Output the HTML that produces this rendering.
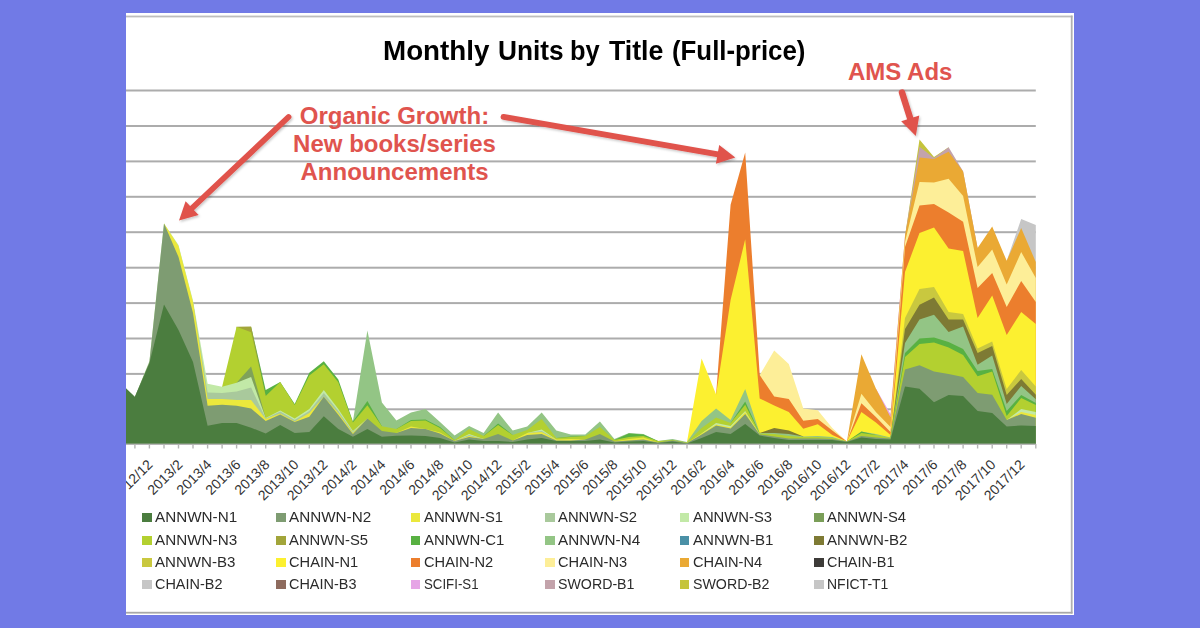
<!DOCTYPE html>
<html><head><meta charset="utf-8"><style>
html,body{margin:0;padding:0;}
body{width:1200px;height:628px;background:#717ae6;position:relative;overflow:hidden;font-family:"Liberation Sans",sans-serif;}
#panel{position:absolute;left:126px;top:13px;width:948px;height:602px;background:#fff;overflow:hidden;}
#chart{position:absolute;left:0;top:0;}
.xl{position:absolute;width:100px;text-align:right;font-size:14px;line-height:14px;color:#333;transform-origin:100% 50%;transform:rotate(-45deg);white-space:nowrap;}
.sw{position:absolute;width:9.6px;height:9.2px;}
.lt{position:absolute;font-size:15px;line-height:16px;color:#2b2b2b;transform-origin:0 50%;white-space:nowrap;}
.title{position:absolute;font-weight:bold;color:#000;white-space:nowrap;}
.ann{position:absolute;font-weight:bold;color:#e0544e;white-space:nowrap;text-align:center;}
</style></head><body>
<div id="panel">
<svg id="chart" width="948" height="602" viewBox="126 13 948 602">
<defs><filter id="sh" x="-10%" y="-10%" width="130%" height="130%"><feDropShadow dx="1.2" dy="1.5" stdDeviation="1.2" flood-color="#000" flood-opacity="0.22"/></filter></defs>
<rect x="126" y="15.6" width="946.5" height="1.8" fill="#bdbdbd"/>
<rect x="1070.8" y="15.6" width="1.8" height="598" fill="#b0b0b0"/>
<rect x="126" y="611.8" width="946.5" height="1.8" fill="#a8a8a8"/>
<rect x="126" y="89.5" width="909.8" height="2" fill="#acacac"/><rect x="126" y="125.0" width="909.8" height="2" fill="#acacac"/><rect x="126" y="160.4" width="909.8" height="2" fill="#acacac"/><rect x="126" y="195.8" width="909.8" height="2" fill="#acacac"/><rect x="126" y="231.2" width="909.8" height="2" fill="#acacac"/><rect x="126" y="266.7" width="909.8" height="2" fill="#acacac"/><rect x="126" y="302.1" width="909.8" height="2" fill="#acacac"/><rect x="126" y="337.5" width="909.8" height="2" fill="#acacac"/><rect x="126" y="372.9" width="909.8" height="2" fill="#acacac"/><rect x="126" y="408.3" width="909.8" height="2" fill="#acacac"/>
<polygon fill="#c6c6c6" points="120.4,444.4 134.9,444.4 149.4,444.4 164.0,444.4 178.5,444.4 193.0,444.4 207.6,444.4 222.1,444.4 236.6,444.4 251.1,444.4 265.7,444.4 280.2,444.4 294.7,444.4 309.3,444.4 323.8,444.4 338.3,444.4 352.9,444.4 367.4,444.4 381.9,444.4 396.4,444.4 411.0,444.4 425.5,444.4 440.0,444.4 454.6,444.4 469.1,444.4 483.6,444.4 498.1,444.4 512.7,444.4 527.2,444.4 541.7,444.4 556.3,444.4 570.8,444.4 585.3,444.4 599.9,444.4 614.4,444.4 628.9,444.4 643.4,444.4 658.0,444.4 672.5,444.4 687.0,444.4 701.6,444.4 716.1,444.4 730.6,444.4 745.2,444.4 759.7,444.4 774.2,444.4 788.8,444.4 803.3,444.4 817.8,444.4 832.3,444.4 846.9,444.4 861.4,444.4 875.9,444.4 890.5,444.4 905.0,444.4 919.5,444.4 934.0,444.4 948.6,444.4 963.1,444.4 977.6,444.4 992.2,444.4 1006.7,444.4 1006.7,260.8 1021.2,219.0 1035.8,225.0 1035.8,444.4 120.4,444.4"/><polygon fill="#c5c43c" points="120.4,444.4 134.9,444.4 149.4,444.4 164.0,444.4 178.5,444.4 193.0,444.4 207.6,444.4 222.1,444.4 236.6,444.4 251.1,444.4 265.7,444.4 280.2,444.4 294.7,444.4 309.3,444.4 323.8,444.4 338.3,444.4 352.9,444.4 367.4,444.4 381.9,444.4 396.4,444.4 411.0,444.4 425.5,444.4 440.0,444.4 454.6,444.4 469.1,444.4 483.6,444.4 498.1,444.4 512.7,444.4 527.2,444.4 541.7,444.4 556.3,444.4 570.8,444.4 585.3,444.4 599.9,444.4 614.4,444.4 628.9,444.4 643.4,444.4 658.0,444.4 672.5,444.4 687.0,444.4 701.6,444.4 716.1,444.4 730.6,444.4 745.2,444.4 759.7,444.4 774.2,444.4 788.8,444.4 803.3,444.4 817.8,444.4 832.3,444.4 846.9,444.4 861.4,444.4 875.9,444.4 890.5,444.4 905.0,444.4 905.0,236.0 919.5,139.5 934.0,157.0 948.6,147.3 948.6,444.4 963.1,444.4 977.6,444.4 992.2,444.4 1006.7,444.4 1021.2,444.4 1035.8,444.4 1035.8,444.4 120.4,444.4"/><polygon fill="#c3a3ab" points="120.4,444.4 134.9,444.4 149.4,444.4 164.0,444.4 178.5,444.4 193.0,444.4 207.6,444.4 222.1,444.4 236.6,444.4 251.1,444.4 265.7,444.4 280.2,444.4 294.7,444.4 309.3,444.4 323.8,444.4 338.3,444.4 352.9,444.4 367.4,444.4 381.9,444.4 396.4,444.4 411.0,444.4 425.5,444.4 440.0,444.4 454.6,444.4 469.1,444.4 483.6,444.4 498.1,444.4 512.7,444.4 527.2,444.4 541.7,444.4 556.3,444.4 570.8,444.4 585.3,444.4 599.9,444.4 614.4,444.4 628.9,444.4 643.4,444.4 658.0,444.4 672.5,444.4 687.0,444.4 701.6,444.4 716.1,444.4 730.6,444.4 745.2,444.4 759.7,444.4 774.2,444.4 788.8,444.4 803.3,444.4 817.8,444.4 832.3,444.4 846.9,444.4 861.4,444.4 875.9,444.4 890.5,444.4 905.0,444.4 905.0,236.0 919.5,146.7 934.0,158.0 948.6,147.3 963.1,171.2 977.6,248.0 977.6,444.4 992.2,444.4 1006.7,444.4 1021.2,444.4 1035.8,444.4 1035.8,444.4 120.4,444.4"/><polygon fill="#e6a5e6" points="120.4,444.4 134.9,444.4 149.4,444.4 164.0,444.4 178.5,444.4 193.0,444.4 207.6,444.4 222.1,444.4 236.6,444.4 251.1,444.4 265.7,444.4 280.2,444.4 294.7,444.4 309.3,444.4 323.8,444.4 338.3,444.4 352.9,444.4 367.4,444.4 381.9,444.4 396.4,444.4 411.0,444.4 425.5,444.4 440.0,444.4 454.6,444.4 469.1,444.4 483.6,444.4 498.1,444.4 512.7,444.4 527.2,444.4 541.7,444.4 556.3,444.4 570.8,444.4 585.3,444.4 599.9,444.4 614.4,444.4 628.9,444.4 643.4,444.4 658.0,444.4 672.5,444.4 687.0,444.4 701.6,444.4 716.1,444.4 730.6,444.4 745.2,444.4 759.7,444.4 774.2,444.4 788.8,444.4 803.3,444.4 817.8,444.4 832.3,444.4 846.9,444.4 861.4,444.4 875.9,444.4 875.9,388.4 890.5,414.0 905.0,236.0 905.0,444.4 919.5,444.4 934.0,444.4 948.6,444.4 963.1,444.4 977.6,444.4 992.2,444.4 1006.7,444.4 1021.2,444.4 1035.8,444.4 1035.8,444.4 120.4,444.4"/><polygon fill="#eaa934" points="120.4,444.4 134.9,444.4 149.4,444.4 164.0,444.4 178.5,444.4 193.0,444.4 207.6,444.4 222.1,444.4 236.6,444.4 251.1,444.4 265.7,444.4 280.2,444.4 294.7,444.4 309.3,444.4 323.8,444.4 338.3,444.4 352.9,444.4 367.4,444.4 381.9,444.4 396.4,444.4 411.0,444.4 425.5,444.4 440.0,444.4 454.6,444.4 469.1,444.4 483.6,444.4 498.1,444.4 512.7,444.4 527.2,444.4 541.7,444.4 556.3,444.4 570.8,444.4 585.3,444.4 599.9,444.4 614.4,444.4 628.9,444.4 643.4,444.4 658.0,444.4 672.5,444.4 687.0,444.4 701.6,444.4 716.1,444.4 730.6,444.4 745.2,444.4 759.7,444.4 774.2,444.4 788.8,444.4 803.3,444.4 817.8,444.4 832.3,444.4 846.9,444.4 846.9,441.5 861.4,354.3 875.9,388.4 890.5,417.3 905.0,236.0 919.5,157.5 934.0,159.0 948.6,151.8 963.1,171.5 977.6,248.0 992.2,226.5 1006.7,260.8 1021.2,228.0 1035.8,262.0 1035.8,444.4 120.4,444.4"/><polygon fill="#fdee98" points="120.4,444.4 134.9,444.4 149.4,444.4 164.0,444.4 178.5,444.4 193.0,444.4 207.6,444.4 222.1,444.4 236.6,444.4 251.1,444.4 265.7,444.4 280.2,444.4 294.7,444.4 309.3,444.4 323.8,444.4 338.3,444.4 352.9,444.4 367.4,444.4 381.9,444.4 396.4,444.4 411.0,444.4 425.5,444.4 440.0,444.4 454.6,444.4 469.1,444.4 483.6,444.4 498.1,444.4 512.7,444.4 527.2,444.4 541.7,444.4 556.3,444.4 570.8,444.4 585.3,444.4 599.9,444.4 614.4,444.4 628.9,444.4 643.4,444.4 658.0,444.4 672.5,444.4 687.0,444.4 701.6,444.4 716.1,444.4 730.6,444.4 745.2,444.4 759.7,444.4 759.7,375.0 774.2,350.6 788.8,364.0 803.3,408.6 817.8,410.3 832.3,427.9 846.9,441.5 861.4,393.7 875.9,412.0 890.5,427.0 905.0,242.0 919.5,182.0 934.0,182.5 948.6,178.7 963.1,196.0 977.6,267.0 992.2,249.6 1006.7,284.6 1021.2,252.0 1035.8,278.0 1035.8,444.4 120.4,444.4"/><polygon fill="#ec7e2d" points="120.4,444.4 134.9,444.4 149.4,444.4 164.0,444.4 178.5,444.4 193.0,444.4 207.6,444.4 222.1,444.4 236.6,444.4 251.1,444.4 265.7,444.4 280.2,444.4 294.7,444.4 309.3,444.4 323.8,444.4 338.3,444.4 352.9,444.4 367.4,444.4 381.9,444.4 396.4,444.4 411.0,444.4 425.5,444.4 440.0,444.4 454.6,444.4 469.1,444.4 483.6,444.4 498.1,444.4 512.7,444.4 527.2,444.4 541.7,444.4 556.3,444.4 570.8,444.4 585.3,444.4 599.9,444.4 614.4,444.4 628.9,444.4 643.4,444.4 658.0,444.4 672.5,444.4 687.0,444.4 701.6,444.4 716.1,444.4 716.1,394.4 730.6,204.7 745.2,152.6 759.7,375.0 774.2,396.6 788.8,399.0 803.3,420.8 817.8,419.0 832.3,430.5 846.9,441.5 861.4,403.3 875.9,417.0 890.5,432.0 905.0,247.0 919.5,205.5 934.0,204.0 948.6,212.5 963.1,221.7 977.6,288.0 992.2,273.0 1006.7,307.0 1021.2,281.0 1035.8,302.0 1035.8,444.4 120.4,444.4"/><polygon fill="#fcf030" points="120.4,444.4 134.9,444.4 149.4,444.4 164.0,444.4 178.5,444.4 193.0,444.4 207.6,444.4 222.1,444.4 236.6,444.4 251.1,444.4 265.7,444.4 280.2,444.4 294.7,444.4 309.3,444.4 323.8,444.4 338.3,444.4 352.9,444.4 367.4,444.4 381.9,444.4 396.4,444.4 411.0,444.4 425.5,444.4 440.0,444.4 454.6,444.4 469.1,444.4 483.6,444.4 498.1,444.4 512.7,444.4 527.2,444.4 541.7,444.4 556.3,444.4 570.8,444.4 585.3,444.4 599.9,444.4 614.4,444.4 628.9,444.4 643.4,444.4 658.0,444.4 672.5,444.4 687.0,444.4 687.0,442.0 701.6,358.5 716.1,394.4 730.6,300.0 745.2,239.3 759.7,398.5 774.2,405.5 788.8,412.0 803.3,428.7 817.8,424.3 832.3,434.9 846.9,441.5 861.4,412.0 875.9,422.6 890.5,434.9 905.0,272.0 919.5,233.0 934.0,227.5 948.6,248.5 963.1,251.0 977.6,318.0 992.2,295.5 1006.7,335.0 1021.2,312.0 1035.8,324.0 1035.8,444.4 120.4,444.4"/><polygon fill="#c9c83f" points="120.4,444.4 134.9,444.4 149.4,444.4 164.0,444.4 178.5,444.4 193.0,444.4 207.6,444.4 222.1,444.4 236.6,444.4 251.1,444.4 265.7,444.4 280.2,444.4 294.7,444.4 309.3,444.4 323.8,444.4 338.3,444.4 352.9,444.4 367.4,444.4 381.9,444.4 396.4,444.4 411.0,444.4 425.5,444.4 440.0,444.4 454.6,444.4 469.1,444.4 483.6,444.4 498.1,444.4 512.7,444.4 527.2,444.4 541.7,444.4 556.3,444.4 570.8,444.4 585.3,444.4 599.9,444.4 614.4,444.4 628.9,444.4 643.4,444.4 658.0,444.4 672.5,444.4 687.0,444.4 701.6,444.4 716.1,444.4 730.6,444.4 745.2,444.4 759.7,444.4 774.2,444.4 788.8,444.4 803.3,444.4 817.8,444.4 832.3,444.4 846.9,444.4 861.4,444.4 875.9,444.4 890.5,444.4 890.5,437.5 905.0,318.0 919.5,289.0 934.0,287.0 948.6,312.0 963.1,313.9 977.6,348.5 992.2,341.6 1006.7,389.0 1021.2,370.0 1035.8,386.6 1035.8,444.4 120.4,444.4"/><polygon fill="#7e7a34" points="120.4,444.4 134.9,444.4 149.4,444.4 164.0,444.4 178.5,444.4 193.0,444.4 207.6,444.4 222.1,444.4 236.6,444.4 251.1,444.4 265.7,444.4 280.2,444.4 294.7,444.4 309.3,444.4 323.8,444.4 338.3,444.4 352.9,444.4 367.4,444.4 381.9,444.4 396.4,444.4 411.0,444.4 425.5,444.4 440.0,444.4 454.6,444.4 469.1,444.4 483.6,444.4 498.1,444.4 512.7,444.4 527.2,444.4 541.7,444.4 556.3,444.4 570.8,444.4 585.3,444.4 599.9,444.4 614.4,444.4 628.9,444.4 643.4,444.4 658.0,444.4 672.5,444.4 687.0,444.4 701.6,444.4 716.1,444.4 730.6,444.4 745.2,444.4 759.7,444.4 759.7,433.0 774.2,428.0 788.8,430.5 803.3,436.6 803.3,444.4 817.8,444.4 832.3,444.4 846.9,444.4 861.4,444.4 875.9,444.4 890.5,444.4 890.5,437.5 905.0,329.0 919.5,304.8 934.0,297.4 948.6,319.6 963.1,319.6 977.6,353.0 992.2,346.0 1006.7,395.0 1021.2,379.0 1035.8,394.7 1035.8,444.4 120.4,444.4"/><polygon fill="#93c585" points="120.4,444.4 134.9,444.4 149.4,444.4 164.0,444.4 178.5,444.4 193.0,444.4 207.6,444.4 222.1,444.4 236.6,444.4 251.1,444.4 265.7,444.4 280.2,444.4 294.7,444.4 309.3,444.4 323.8,444.4 338.3,444.4 352.9,444.4 352.9,421.5 367.4,330.4 381.9,402.4 396.4,420.5 411.0,412.5 425.5,409.0 440.0,422.0 454.6,435.5 469.1,426.0 483.6,433.0 498.1,412.5 512.7,430.5 527.2,426.5 541.7,412.5 556.3,430.5 570.8,434.5 585.3,434.5 599.9,421.5 614.4,439.0 628.9,433.0 643.4,434.0 658.0,441.0 672.5,439.0 687.0,442.0 701.6,421.0 716.1,408.5 730.6,420.0 745.2,389.0 759.7,433.0 774.2,433.0 788.8,434.0 803.3,436.6 817.8,436.0 832.3,437.0 846.9,441.5 846.9,444.4 861.4,444.4 861.4,431.4 875.9,434.0 890.5,437.5 905.0,343.0 919.5,319.6 934.0,314.7 948.6,332.0 963.1,326.6 977.6,364.7 992.2,355.4 1006.7,404.0 1021.2,386.0 1035.8,399.3 1035.8,444.4 120.4,444.4"/><polygon fill="#58b142" points="120.4,444.4 134.9,444.4 149.4,444.4 164.0,444.4 178.5,444.4 193.0,444.4 207.6,444.4 222.1,444.4 236.6,444.4 251.1,444.4 251.1,326.5 265.7,390.0 280.2,381.9 294.7,404.0 309.3,372.8 323.8,361.3 338.3,379.5 352.9,421.5 367.4,401.0 381.9,426.3 381.9,444.4 396.4,444.4 396.4,429.0 411.0,420.0 425.5,419.5 440.0,427.0 454.6,440.0 454.6,444.4 469.1,444.4 483.6,444.4 483.6,436.0 498.1,423.5 512.7,435.0 512.7,444.4 527.2,444.4 541.7,444.4 556.3,444.4 556.3,438.0 570.8,436.5 585.3,436.0 585.3,444.4 599.9,444.4 614.4,444.4 614.4,440.0 628.9,433.5 643.4,434.5 658.0,441.0 658.0,444.4 672.5,444.4 687.0,444.4 701.6,444.4 716.1,444.4 730.6,444.4 730.6,423.0 745.2,401.6 759.7,433.5 759.7,444.4 774.2,444.4 788.8,444.4 803.3,444.4 817.8,444.4 832.3,444.4 846.9,444.4 846.9,441.5 861.4,431.4 875.9,435.0 875.9,444.4 890.5,444.4 890.5,438.0 905.0,353.0 919.5,338.5 934.0,337.5 948.6,342.0 963.1,349.0 977.6,371.0 992.2,369.0 1006.7,411.0 1021.2,395.0 1035.8,403.0 1035.8,444.4 120.4,444.4"/><polygon fill="#a2a53a" points="120.4,444.4 134.9,444.4 149.4,444.4 164.0,444.4 178.5,444.4 193.0,444.4 207.6,444.4 222.1,444.4 236.6,444.4 236.6,326.8 251.1,326.5 265.7,396.0 265.7,444.4 280.2,444.4 294.7,444.4 309.3,444.4 323.8,444.4 338.3,444.4 352.9,444.4 367.4,444.4 381.9,444.4 396.4,444.4 411.0,444.4 425.5,444.4 440.0,444.4 454.6,444.4 469.1,444.4 483.6,444.4 498.1,444.4 512.7,444.4 527.2,444.4 541.7,444.4 556.3,444.4 570.8,444.4 585.3,444.4 599.9,444.4 614.4,444.4 628.9,444.4 643.4,444.4 658.0,444.4 672.5,444.4 687.0,444.4 701.6,444.4 716.1,444.4 730.6,444.4 745.2,444.4 759.7,444.4 774.2,444.4 788.8,444.4 803.3,444.4 817.8,444.4 832.3,444.4 846.9,444.4 861.4,444.4 875.9,444.4 890.5,444.4 905.0,444.4 919.5,444.4 934.0,444.4 948.6,444.4 963.1,444.4 977.6,444.4 992.2,444.4 1006.7,444.4 1021.2,444.4 1035.8,444.4 1035.8,444.4 120.4,444.4"/><polygon fill="#b3d030" points="120.4,444.4 134.9,444.4 149.4,444.4 164.0,444.4 178.5,444.4 193.0,444.4 207.6,444.4 222.1,444.4 222.1,386.7 236.6,326.8 251.1,332.2 265.7,396.0 280.2,381.9 294.7,405.0 309.3,375.6 323.8,364.2 338.3,382.3 352.9,422.5 367.4,405.3 381.9,426.3 396.4,429.0 411.0,421.0 425.5,420.5 440.0,428.0 454.6,440.0 469.1,429.0 483.6,436.0 498.1,425.0 512.7,435.0 527.2,430.0 541.7,419.0 556.3,438.0 570.8,437.0 585.3,436.0 599.9,427.0 614.4,440.0 628.9,437.0 643.4,436.0 658.0,441.0 672.5,440.0 687.0,442.5 701.6,428.0 716.1,417.5 730.6,423.0 745.2,404.8 759.7,433.5 774.2,434.0 788.8,436.0 803.3,437.0 817.8,437.0 832.3,438.0 846.9,441.5 861.4,433.0 875.9,435.0 890.5,438.0 905.0,357.0 919.5,344.0 934.0,342.5 948.6,347.5 963.1,355.0 977.6,376.2 992.2,371.6 1006.7,416.0 1021.2,398.0 1035.8,405.0 1035.8,444.4 120.4,444.4"/><polygon fill="#7fa25a" points="120.4,444.4 134.9,444.4 149.4,444.4 164.0,444.4 178.5,444.4 193.0,444.4 207.6,444.4 222.1,444.4 236.6,444.4 236.6,382.8 251.1,366.6 265.7,418.0 265.7,444.4 280.2,444.4 294.7,444.4 309.3,444.4 323.8,444.4 338.3,444.4 352.9,444.4 367.4,444.4 381.9,444.4 396.4,444.4 411.0,444.4 425.5,444.4 440.0,444.4 454.6,444.4 469.1,444.4 483.6,444.4 498.1,444.4 512.7,444.4 527.2,444.4 541.7,444.4 556.3,444.4 570.8,444.4 585.3,444.4 599.9,444.4 614.4,444.4 628.9,444.4 643.4,444.4 658.0,444.4 672.5,444.4 687.0,444.4 701.6,444.4 716.1,444.4 730.6,444.4 745.2,444.4 759.7,444.4 774.2,444.4 788.8,444.4 803.3,444.4 817.8,444.4 832.3,444.4 846.9,444.4 861.4,444.4 875.9,444.4 890.5,444.4 905.0,444.4 919.5,444.4 934.0,444.4 948.6,444.4 963.1,444.4 977.6,444.4 992.2,444.4 1006.7,444.4 1021.2,444.4 1035.8,444.4 1035.8,444.4 120.4,444.4"/><polygon fill="#c2e9a7" points="120.4,444.4 134.9,444.4 134.9,396.7 149.4,361.0 164.0,223.4 178.5,245.0 193.0,300.5 207.6,383.8 222.1,386.7 236.6,382.8 251.1,377.0 265.7,418.0 280.2,410.5 294.7,418.6 309.3,409.0 323.8,390.0 338.3,409.0 352.9,431.0 367.4,418.6 367.4,444.4 381.9,444.4 396.4,444.4 411.0,444.4 425.5,444.4 440.0,444.4 454.6,444.4 454.6,441.0 469.1,434.0 483.6,439.0 483.6,444.4 498.1,444.4 512.7,444.4 527.2,444.4 527.2,433.0 541.7,429.5 556.3,439.5 556.3,444.4 570.8,444.4 585.3,444.4 599.9,444.4 614.4,444.4 628.9,444.4 643.4,444.4 658.0,444.4 672.5,444.4 687.0,444.4 701.6,444.4 701.6,433.5 716.1,423.0 730.6,426.0 745.2,411.0 759.7,434.5 759.7,444.4 774.2,444.4 788.8,444.4 803.3,444.4 817.8,444.4 832.3,444.4 846.9,444.4 861.4,444.4 875.9,444.4 890.5,444.4 905.0,444.4 919.5,444.4 934.0,444.4 948.6,444.4 963.1,444.4 977.6,444.4 992.2,444.4 1006.7,444.4 1006.7,420.0 1021.2,409.0 1035.8,412.0 1035.8,444.4 120.4,444.4"/><polygon fill="#a9c99c" points="120.4,444.4 134.9,444.4 149.4,444.4 164.0,444.4 178.5,444.4 193.0,444.4 193.0,302.0 207.6,392.4 222.1,393.0 236.6,391.4 251.1,387.6 265.7,418.5 280.2,411.5 294.7,420.0 309.3,411.0 323.8,393.0 338.3,411.0 352.9,432.0 367.4,418.6 367.4,444.4 381.9,444.4 396.4,444.4 411.0,444.4 425.5,444.4 440.0,444.4 454.6,444.4 454.6,441.0 469.1,435.0 483.6,439.0 483.6,444.4 498.1,444.4 512.7,444.4 527.2,444.4 527.2,433.0 541.7,431.0 556.3,439.5 556.3,444.4 570.8,444.4 585.3,444.4 599.9,444.4 614.4,444.4 628.9,444.4 643.4,444.4 658.0,444.4 672.5,444.4 687.0,444.4 701.6,444.4 716.1,444.4 730.6,444.4 745.2,444.4 759.7,444.4 774.2,444.4 788.8,444.4 803.3,444.4 817.8,444.4 832.3,444.4 846.9,444.4 861.4,444.4 875.9,444.4 890.5,444.4 905.0,444.4 919.5,444.4 934.0,444.4 948.6,444.4 963.1,444.4 977.6,444.4 992.2,444.4 1006.7,444.4 1021.2,444.4 1035.8,444.4 1035.8,444.4 120.4,444.4"/><polygon fill="#ebe83c" points="120.4,444.4 134.9,444.4 149.4,444.4 164.0,444.4 164.0,223.4 178.5,246.0 193.0,302.0 207.6,399.0 222.1,399.0 236.6,400.0 251.1,400.0 265.7,419.0 280.2,413.4 294.7,421.5 309.3,413.0 323.8,396.7 338.3,413.0 352.9,433.0 367.4,418.6 367.4,444.4 381.9,444.4 396.4,444.4 396.4,433.0 411.0,426.5 425.5,429.0 440.0,432.5 454.6,441.0 469.1,436.0 483.6,439.0 483.6,444.4 498.1,444.4 512.7,444.4 512.7,440.5 527.2,433.0 541.7,432.0 556.3,439.5 570.8,439.0 585.3,439.5 585.3,444.4 599.9,444.4 614.4,444.4 614.4,441.5 628.9,439.0 643.4,437.5 658.0,442.5 658.0,444.4 672.5,444.4 687.0,444.4 687.0,443.0 701.6,433.5 716.1,424.5 730.6,427.5 745.2,412.0 759.7,434.5 759.7,444.4 774.2,444.4 788.8,444.4 803.3,444.4 817.8,444.4 832.3,444.4 846.9,444.4 861.4,444.4 875.9,444.4 890.5,444.4 905.0,444.4 919.5,444.4 934.0,444.4 948.6,444.4 963.1,444.4 977.6,444.4 992.2,444.4 1006.7,444.4 1006.7,420.0 1021.2,412.0 1035.8,415.0 1035.8,444.4 120.4,444.4"/><polygon fill="#7e9c72" points="120.4,444.4 134.9,444.4 134.9,396.7 149.4,362.0 164.0,223.4 178.5,257.0 193.0,313.0 207.6,405.8 222.1,404.8 236.6,405.8 251.1,408.6 265.7,421.0 280.2,414.4 294.7,422.0 309.3,416.7 323.8,396.7 338.3,414.8 352.9,434.0 367.4,418.6 381.9,431.0 396.4,433.0 411.0,428.0 425.5,429.0 440.0,433.5 454.6,441.0 469.1,437.0 483.6,439.0 498.1,434.0 512.7,440.5 527.2,435.0 541.7,434.0 556.3,440.5 570.8,440.5 585.3,439.5 599.9,434.0 614.4,441.5 628.9,440.5 643.4,439.5 658.0,442.5 672.5,440.5 687.0,443.0 701.6,434.5 716.1,425.5 730.6,428.5 745.2,414.0 759.7,434.5 774.2,436.5 788.8,438.5 803.3,438.5 817.8,438.5 832.3,439.0 846.9,441.5 861.4,436.0 875.9,437.5 890.5,438.5 905.0,369.6 919.5,365.3 934.0,371.5 948.6,374.0 963.1,377.0 977.6,393.0 992.2,394.7 1006.7,420.0 1021.2,414.0 1035.8,417.8 1035.8,444.4 120.4,444.4"/><polygon fill="#4b7d3f" points="120.4,383.0 134.9,396.7 149.4,363.2 164.0,304.5 178.5,330.0 193.0,362.0 207.6,425.8 222.1,423.0 236.6,423.0 251.1,427.7 265.7,433.5 280.2,424.9 294.7,433.0 309.3,432.0 323.8,416.3 338.3,429.0 352.9,436.8 367.4,429.0 381.9,436.8 396.4,435.8 411.0,435.5 425.5,436.0 440.0,438.0 454.6,442.5 469.1,439.5 483.6,441.0 498.1,441.0 512.7,442.0 527.2,439.5 541.7,438.0 556.3,441.0 570.8,441.0 585.3,441.0 599.9,439.5 614.4,442.5 628.9,441.5 643.4,441.0 658.0,443.0 672.5,441.5 687.0,443.5 701.6,438.0 716.1,432.0 730.6,434.0 745.2,424.0 759.7,435.5 774.2,438.0 788.8,440.0 803.3,440.0 817.8,440.0 832.3,440.0 846.9,442.0 861.4,437.5 875.9,439.0 890.5,439.5 905.0,386.6 919.5,388.8 934.0,402.3 948.6,395.0 963.1,396.0 977.6,411.0 992.2,413.0 1006.7,426.5 1021.2,425.5 1035.8,426.0 1035.8,444.4 120.4,444.4"/>
<rect x="126" y="443.6" width="909.8" height="1.4" fill="#b5b5b5"/>
<rect x="134.2" y="444" width="1.4" height="4.5" fill="#b5b5b5"/><rect x="148.7" y="444" width="1.4" height="4.5" fill="#b5b5b5"/><rect x="163.3" y="444" width="1.4" height="4.5" fill="#b5b5b5"/><rect x="177.8" y="444" width="1.4" height="4.5" fill="#b5b5b5"/><rect x="192.3" y="444" width="1.4" height="4.5" fill="#b5b5b5"/><rect x="206.9" y="444" width="1.4" height="4.5" fill="#b5b5b5"/><rect x="221.4" y="444" width="1.4" height="4.5" fill="#b5b5b5"/><rect x="235.9" y="444" width="1.4" height="4.5" fill="#b5b5b5"/><rect x="250.4" y="444" width="1.4" height="4.5" fill="#b5b5b5"/><rect x="265.0" y="444" width="1.4" height="4.5" fill="#b5b5b5"/><rect x="279.5" y="444" width="1.4" height="4.5" fill="#b5b5b5"/><rect x="294.0" y="444" width="1.4" height="4.5" fill="#b5b5b5"/><rect x="308.6" y="444" width="1.4" height="4.5" fill="#b5b5b5"/><rect x="323.1" y="444" width="1.4" height="4.5" fill="#b5b5b5"/><rect x="337.6" y="444" width="1.4" height="4.5" fill="#b5b5b5"/><rect x="352.2" y="444" width="1.4" height="4.5" fill="#b5b5b5"/><rect x="366.7" y="444" width="1.4" height="4.5" fill="#b5b5b5"/><rect x="381.2" y="444" width="1.4" height="4.5" fill="#b5b5b5"/><rect x="395.7" y="444" width="1.4" height="4.5" fill="#b5b5b5"/><rect x="410.3" y="444" width="1.4" height="4.5" fill="#b5b5b5"/><rect x="424.8" y="444" width="1.4" height="4.5" fill="#b5b5b5"/><rect x="439.3" y="444" width="1.4" height="4.5" fill="#b5b5b5"/><rect x="453.9" y="444" width="1.4" height="4.5" fill="#b5b5b5"/><rect x="468.4" y="444" width="1.4" height="4.5" fill="#b5b5b5"/><rect x="482.9" y="444" width="1.4" height="4.5" fill="#b5b5b5"/><rect x="497.4" y="444" width="1.4" height="4.5" fill="#b5b5b5"/><rect x="512.0" y="444" width="1.4" height="4.5" fill="#b5b5b5"/><rect x="526.5" y="444" width="1.4" height="4.5" fill="#b5b5b5"/><rect x="541.0" y="444" width="1.4" height="4.5" fill="#b5b5b5"/><rect x="555.6" y="444" width="1.4" height="4.5" fill="#b5b5b5"/><rect x="570.1" y="444" width="1.4" height="4.5" fill="#b5b5b5"/><rect x="584.6" y="444" width="1.4" height="4.5" fill="#b5b5b5"/><rect x="599.2" y="444" width="1.4" height="4.5" fill="#b5b5b5"/><rect x="613.7" y="444" width="1.4" height="4.5" fill="#b5b5b5"/><rect x="628.2" y="444" width="1.4" height="4.5" fill="#b5b5b5"/><rect x="642.7" y="444" width="1.4" height="4.5" fill="#b5b5b5"/><rect x="657.3" y="444" width="1.4" height="4.5" fill="#b5b5b5"/><rect x="671.8" y="444" width="1.4" height="4.5" fill="#b5b5b5"/><rect x="686.3" y="444" width="1.4" height="4.5" fill="#b5b5b5"/><rect x="700.9" y="444" width="1.4" height="4.5" fill="#b5b5b5"/><rect x="715.4" y="444" width="1.4" height="4.5" fill="#b5b5b5"/><rect x="729.9" y="444" width="1.4" height="4.5" fill="#b5b5b5"/><rect x="744.5" y="444" width="1.4" height="4.5" fill="#b5b5b5"/><rect x="759.0" y="444" width="1.4" height="4.5" fill="#b5b5b5"/><rect x="773.5" y="444" width="1.4" height="4.5" fill="#b5b5b5"/><rect x="788.0" y="444" width="1.4" height="4.5" fill="#b5b5b5"/><rect x="802.6" y="444" width="1.4" height="4.5" fill="#b5b5b5"/><rect x="817.1" y="444" width="1.4" height="4.5" fill="#b5b5b5"/><rect x="831.6" y="444" width="1.4" height="4.5" fill="#b5b5b5"/><rect x="846.2" y="444" width="1.4" height="4.5" fill="#b5b5b5"/><rect x="860.7" y="444" width="1.4" height="4.5" fill="#b5b5b5"/><rect x="875.2" y="444" width="1.4" height="4.5" fill="#b5b5b5"/><rect x="889.8" y="444" width="1.4" height="4.5" fill="#b5b5b5"/><rect x="904.3" y="444" width="1.4" height="4.5" fill="#b5b5b5"/><rect x="918.8" y="444" width="1.4" height="4.5" fill="#b5b5b5"/><rect x="933.3" y="444" width="1.4" height="4.5" fill="#b5b5b5"/><rect x="947.9" y="444" width="1.4" height="4.5" fill="#b5b5b5"/><rect x="962.4" y="444" width="1.4" height="4.5" fill="#b5b5b5"/><rect x="976.9" y="444" width="1.4" height="4.5" fill="#b5b5b5"/><rect x="991.5" y="444" width="1.4" height="4.5" fill="#b5b5b5"/><rect x="1006.0" y="444" width="1.4" height="4.5" fill="#b5b5b5"/><rect x="1020.5" y="444" width="1.4" height="4.5" fill="#b5b5b5"/><rect x="1035.1" y="444" width="1.4" height="4.5" fill="#b5b5b5"/>
<g filter="url(#sh)"><line x1="288.5" y1="117.0" x2="190.6" y2="209.5" stroke="#e0524c" stroke-width="5.8" stroke-linecap="round"/><polygon fill="#e0524c" points="179.0,220.5 185.6,201.2 198.6,215.0"/><line x1="503.5" y1="116.9" x2="719.5" y2="154.6" stroke="#e0524c" stroke-width="5.8" stroke-linecap="round"/><polygon fill="#e0524c" points="735.3,157.4 715.9,163.7 719.2,144.9"/><line x1="902.0" y1="92.5" x2="910.8" y2="120.3" stroke="#e0524c" stroke-width="6.5" stroke-linecap="round"/><polygon fill="#e0524c" points="915.8,136.0 901.2,121.2 919.3,115.5"/></g>
</svg>
<div class="xl" style="left:-75.6px;top:442.0px">12/12</div><div class="xl" style="left:-46.5px;top:442.0px">2013/2</div><div class="xl" style="left:-17.4px;top:442.0px">2013/4</div><div class="xl" style="left:11.6px;top:442.0px">2013/6</div><div class="xl" style="left:40.7px;top:442.0px">2013/8</div><div class="xl" style="left:69.7px;top:442.0px">2013/10</div><div class="xl" style="left:98.8px;top:442.0px">2013/12</div><div class="xl" style="left:127.9px;top:442.0px">2014/2</div><div class="xl" style="left:156.9px;top:442.0px">2014/4</div><div class="xl" style="left:186.0px;top:442.0px">2014/6</div><div class="xl" style="left:215.0px;top:442.0px">2014/8</div><div class="xl" style="left:244.1px;top:442.0px">2014/10</div><div class="xl" style="left:273.1px;top:442.0px">2014/12</div><div class="xl" style="left:302.2px;top:442.0px">2015/2</div><div class="xl" style="left:331.3px;top:442.0px">2015/4</div><div class="xl" style="left:360.3px;top:442.0px">2015/6</div><div class="xl" style="left:389.4px;top:442.0px">2015/8</div><div class="xl" style="left:418.4px;top:442.0px">2015/10</div><div class="xl" style="left:447.5px;top:442.0px">2015/12</div><div class="xl" style="left:476.6px;top:442.0px">2016/2</div><div class="xl" style="left:505.6px;top:442.0px">2016/4</div><div class="xl" style="left:534.7px;top:442.0px">2016/6</div><div class="xl" style="left:563.8px;top:442.0px">2016/8</div><div class="xl" style="left:592.8px;top:442.0px">2016/10</div><div class="xl" style="left:621.9px;top:442.0px">2016/12</div><div class="xl" style="left:650.9px;top:442.0px">2017/2</div><div class="xl" style="left:680.0px;top:442.0px">2017/4</div><div class="xl" style="left:709.0px;top:442.0px">2017/6</div><div class="xl" style="left:738.1px;top:442.0px">2017/8</div><div class="xl" style="left:767.2px;top:442.0px">2017/10</div><div class="xl" style="left:796.2px;top:442.0px">2017/12</div>
</div>
<div class="sw" style="left:142.0px;top:513.3px;background:#4b7d3f"></div><div class="lt" style="left:155.0px;top:509.3px;transform:scaleX(1.017)">ANNWN-N1</div><div class="sw" style="left:276.4px;top:513.3px;background:#7e9c72"></div><div class="lt" style="left:289.4px;top:509.3px;transform:scaleX(1.017)">ANNWN-N2</div><div class="sw" style="left:410.9px;top:513.3px;background:#ebe83c"></div><div class="lt" style="left:423.9px;top:509.3px;transform:scaleX(0.988)">ANNWN-S1</div><div class="sw" style="left:545.3px;top:513.3px;background:#a9c99c"></div><div class="lt" style="left:558.3px;top:509.3px;transform:scaleX(0.988)">ANNWN-S2</div><div class="sw" style="left:679.8px;top:513.3px;background:#c2e9a7"></div><div class="lt" style="left:692.8px;top:509.3px;transform:scaleX(0.988)">ANNWN-S3</div><div class="sw" style="left:814.2px;top:513.3px;background:#7a9e58"></div><div class="lt" style="left:827.2px;top:509.3px;transform:scaleX(0.988)">ANNWN-S4</div><div class="sw" style="left:142.0px;top:535.5px;background:#b3d030"></div><div class="lt" style="left:155.0px;top:531.5px;transform:scaleX(1.017)">ANNWN-N3</div><div class="sw" style="left:276.4px;top:535.5px;background:#a2a53a"></div><div class="lt" style="left:289.4px;top:531.5px;transform:scaleX(0.988)">ANNWN-S5</div><div class="sw" style="left:410.9px;top:535.5px;background:#58b142"></div><div class="lt" style="left:423.9px;top:531.5px;transform:scaleX(0.994)">ANNWN-C1</div><div class="sw" style="left:545.3px;top:535.5px;background:#93c585"></div><div class="lt" style="left:558.3px;top:531.5px;transform:scaleX(1.017)">ANNWN-N4</div><div class="sw" style="left:679.8px;top:535.5px;background:#4a90a6"></div><div class="lt" style="left:692.8px;top:531.5px;transform:scaleX(1.006)">ANNWN-B1</div><div class="sw" style="left:814.2px;top:535.5px;background:#7e7a34"></div><div class="lt" style="left:827.2px;top:531.5px;transform:scaleX(1.006)">ANNWN-B2</div><div class="sw" style="left:142.0px;top:557.8px;background:#c9c83f"></div><div class="lt" style="left:155.0px;top:553.8px;transform:scaleX(1.006)">ANNWN-B3</div><div class="sw" style="left:276.4px;top:557.8px;background:#fcf030"></div><div class="lt" style="left:289.4px;top:553.8px;transform:scaleX(0.976)">CHAIN-N1</div><div class="sw" style="left:410.9px;top:557.8px;background:#ec7e2d"></div><div class="lt" style="left:423.9px;top:553.8px;transform:scaleX(0.976)">CHAIN-N2</div><div class="sw" style="left:545.3px;top:557.8px;background:#fdee98"></div><div class="lt" style="left:558.3px;top:553.8px;transform:scaleX(0.976)">CHAIN-N3</div><div class="sw" style="left:679.8px;top:557.8px;background:#eaa934"></div><div class="lt" style="left:692.8px;top:553.8px;transform:scaleX(0.976)">CHAIN-N4</div><div class="sw" style="left:814.2px;top:557.8px;background:#3d3b38"></div><div class="lt" style="left:827.2px;top:553.8px;transform:scaleX(0.963)">CHAIN-B1</div><div class="sw" style="left:142.0px;top:580.0px;background:#c6c6c6"></div><div class="lt" style="left:155.0px;top:576.0px;transform:scaleX(0.963)">CHAIN-B2</div><div class="sw" style="left:276.4px;top:580.0px;background:#8e6b5e"></div><div class="lt" style="left:289.4px;top:576.0px;transform:scaleX(0.963)">CHAIN-B3</div><div class="sw" style="left:410.9px;top:580.0px;background:#e6a5e6"></div><div class="lt" style="left:423.9px;top:576.0px;transform:scaleX(0.884)">SCIFI-S1</div><div class="sw" style="left:545.3px;top:580.0px;background:#c3a3ab"></div><div class="lt" style="left:558.3px;top:576.0px;transform:scaleX(0.946)">SWORD-B1</div><div class="sw" style="left:679.8px;top:580.0px;background:#c5c43c"></div><div class="lt" style="left:692.8px;top:576.0px;transform:scaleX(0.946)">SWORD-B2</div><div class="sw" style="left:814.2px;top:580.0px;background:#c6c6c6"></div><div class="lt" style="left:827.2px;top:576.0px;transform:scaleX(0.932)">NFICT-T1</div>
<div class="title" style="left:383.0px;top:36px;font-size:27.3px;line-height:30px;transform:scaleX(1.018);transform-origin:0 0;">Monthly</div><div class="title" style="left:497.9px;top:36px;font-size:27.3px;line-height:30px;transform:scaleX(0.962);transform-origin:0 0;">Units</div><div class="title" style="left:570.3px;top:36px;font-size:27.3px;line-height:30px;transform:scaleX(0.933);transform-origin:0 0;">by</div><div class="title" style="left:608.75px;top:36px;font-size:27.3px;line-height:30px;transform:scaleX(0.977);transform-origin:0 0;">Title</div><div class="title" style="left:671.55px;top:36px;font-size:27.3px;line-height:30px;transform:scaleX(0.946);transform-origin:0 0;">(Full-price)</div>
<div class="ann" style="left:848px;top:58px;font-size:24px;line-height:28px;">AMS Ads</div>
<div class="ann" style="left:274.5px;top:101.5px;width:240px;font-size:24px;line-height:28px;">Organic Growth:</div><div class="ann" style="left:274.5px;top:129.5px;width:240px;font-size:24px;line-height:28px;">New books/series</div><div class="ann" style="left:274.5px;top:158.0px;width:240px;font-size:24px;line-height:28px;">Announcements</div>
</body></html>
